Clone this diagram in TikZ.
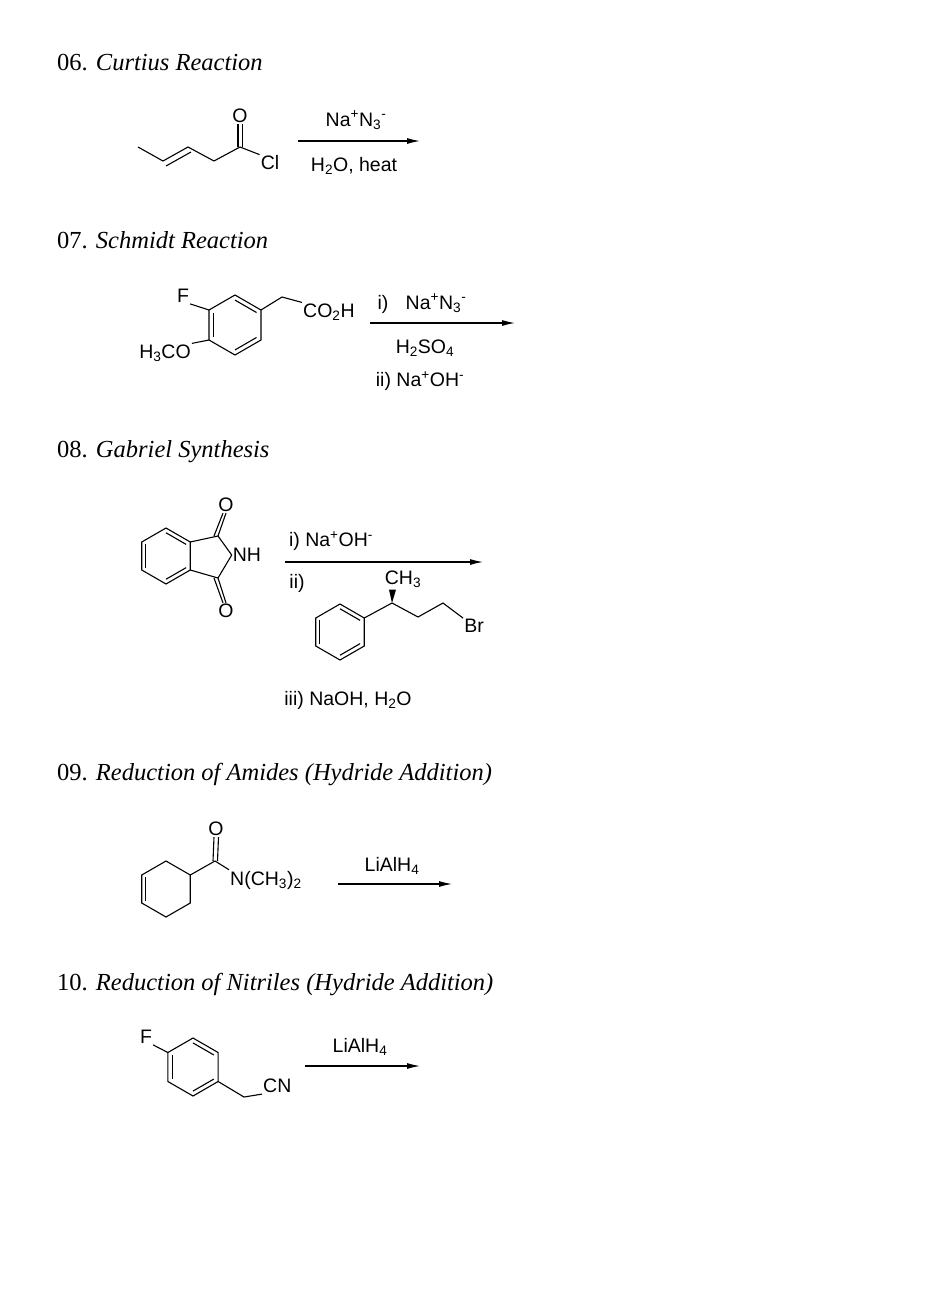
\documentclass[tikz,border=0pt]{standalone}
\usepackage{fontspec}
\setmainfont{Liberation Sans}
\newfontfamily\headfont{Liberation Serif}
\usetikzlibrary{arrows.meta,calc}
\tikzset{
 bond/.style={line width=1.1pt},
 lab/.style={font=\fontsize{19.5}{22}\selectfont, inner sep=1pt},
 head/.style={font=\headfont\fontsize{24.5}{28}\selectfont, anchor=west, inner sep=0pt},
 rxn/.style={line width=1.1pt, -{Latex[length=13pt,width=6pt]}},
}
\newcommand\sub[1]{\textsubscript{#1}}
\newcommand\sups[1]{\textsuperscript{#1}}
\newcommand\hexa[4]{%
 \foreach \k/\a in {1/-90,2/-30,3/30,4/90,5/150,6/-150}{
  \coordinate (#4-\k) at ($(#1,#2)+(\a:#3)$);}
 \draw[bond] (#4-1)--(#4-2)--(#4-3)--(#4-4)--(#4-5)--(#4-6)--cycle;}
\newcommand\inner[3]{\draw[bond] ($(#1)!0.17!(#3)$) -- ($(#2)!0.17!(#3)$);}
\begin{document}
\begin{tikzpicture}[x=1pt,y=-1pt]
\useasboundingbox (0,0) rectangle (930,1294);
\fill[white] (0,0) rectangle (930,1294);
% ---------- 06
\node[head] (h6) at (57,63) {06. \textit{Curtius Reaction}};
\coordinate (a1) at (138,147); \coordinate (a2) at (163,161);
\coordinate (a3) at (188,147); \coordinate (a4) at (214,161);
\coordinate (a5) at (240,147);
\node[lab] (o6) at (240,116) {O};
\node[lab] (cl6) at (270,163) {Cl};
\draw[bond] (a1)--(a2)--(a3)--(a4)--(a5);
\draw[bond] ($(a2)+(3,5)$)--($(a3)+(3,5)$);
\draw[bond] ($(a5)+(-2,0)$)--($(o6.south)+(-2,0)$);
\draw[bond] ($(a5)+(2.5,0)$)--($(o6.south)+(2.5,0)$);
\draw[bond] (a5)--(cl6.north west);
\draw[rxn] (298,141)--(420,141);
\node[lab] (t6a) at (356,120) {Na\sups{+}N\sub{3}\sups{-}};
\node[lab] (t6b) at (354,166) {H\sub{2}O, heat};
% ---------- 07
\node[head] (h7) at (57,240) {07. \textit{Schmidt Reaction}};
\hexa{235}{325}{30}{b}
\inner{b-6}{b-5}{235,325}\inner{b-1}{b-2}{235,325}\inner{b-3}{b-4}{235,325}
\node[lab] (f7) at (183,296) {F};
\draw[bond] (b-6)--(f7.south east);
\node[lab] (och7) at (165,353) {H\sub{3}CO};
\draw[bond] (b-5)--(och7.north east);
\coordinate (b7) at (282,297);
\node[lab,anchor=west] (co7) at (302,312) {CO\sub{2}H};
\draw[bond] (b-2)--(b7)--(co7.north west);
\draw[rxn] (370,323)--(515,323);
\node[lab] (t7a) at (383,304) {i)};
\node[lab] (t7b) at (436,303) {Na\sups{+}N\sub{3}\sups{-}};
\node[lab] (t7c) at (425,348) {H\sub{2}SO\sub{4}};
\node[lab] (t7d) at (420,381) {ii) Na\sups{+}OH\sups{-}};
% ---------- 08
\node[head] (h8) at (57,452) {08. \textit{Gabriel Synthesis}};
\hexa{166}{556}{28}{c}
\inner{c-6}{c-5}{166,556}\inner{c-1}{c-2}{166,556}\inner{c-3}{c-4}{166,556}
\coordinate (c7) at (218,536); \coordinate (c8) at (218,578);
\node[lab] (nh8) at (247,555) {NH};
\node[lab] (o8a) at (226,505) {O};
\node[lab] (o8b) at (226,611) {O};
\draw[bond] (c-2)--(c7)--(nh8.west);
\draw[bond] (c-3)--(c8)--(nh8.west);
\draw[bond] (c7)--(o8a.south); \draw[bond] ($(c7)+(-4,0)$)--($(o8a.south)+(-3,0)$);
\draw[bond] (c8)--(o8b.north); \draw[bond] ($(c8)+(-4,0)$)--($(o8b.north)+(-3,0)$);
\draw[rxn] (285,562)--(483,562);
\node[lab] (t8a) at (331,541) {i) Na\sups{+}OH\sups{-}};
\node[lab] (t8b) at (297,583) {ii)};
\hexa{340}{632}{28}{d}
\inner{d-6}{d-5}{340,632}\inner{d-1}{d-2}{340,632}\inner{d-3}{d-4}{340,632}
\coordinate (d7) at (392,603); \coordinate (d8) at (418,617);
\coordinate (d9) at (443,603);
\node[lab] (ch8) at (403,579) {CH\sub{3}};
\node[lab] (br8) at (474,626) {Br};
\draw[bond] (d-2)--(d7)--(d8)--(d9)--(br8.north west);
\fill (d7) -- ($(ch8.south)+(-14,1)$) -- ($(ch8.south)+(-7,1)$) -- cycle;
\node[lab] (t8c) at (348,700) {iii) NaOH, H\sub{2}O};
% ---------- 09
\node[head] (h9) at (57,775) {09. \textit{Reduction of Amides (Hydride Addition)}};
\hexa{166}{889}{28}{e}
\inner{e-5}{e-6}{166,889}
\coordinate (e7) at (215,861);
\node[lab] (o9) at (216,829) {O};
\node[lab,anchor=west] (n9) at (229,880) {N(CH\sub{3})\sub{2}};
\draw[bond] (e-2)--(e7)--(n9.north west);
\draw[bond] ($(e7)+(-2,0)$)--($(o9.south)+(-2,0)$);
\draw[bond] ($(e7)+(2.5,0)$)--($(o9.south)+(2.5,0)$);
\draw[rxn] (338,884)--(452,884);
\node[lab] (t9) at (392,866) {LiAlH\sub{4}};
% ---------- 10
\node[head] (h10) at (57,985) {10. \textit{Reduction of Nitriles (Hydride Addition)}};
\hexa{193}{1067}{29}{g}
\inner{g-6}{g-5}{193,1067}\inner{g-1}{g-2}{193,1067}\inner{g-3}{g-4}{193,1067}
\node[lab] (f10) at (146,1037) {F};
\draw[bond] (g-6)--(f10.south east);
\coordinate (g7) at (244,1097);
\node[lab,anchor=west] (cn10) at (262,1086) {CN};
\draw[bond] (g-3)--(g7)--(cn10.south west);
\draw[rxn] (305,1066)--(420,1066);
\node[lab] (t10) at (360,1047) {LiAlH\sub{4}};
\end{tikzpicture}
\end{document}
